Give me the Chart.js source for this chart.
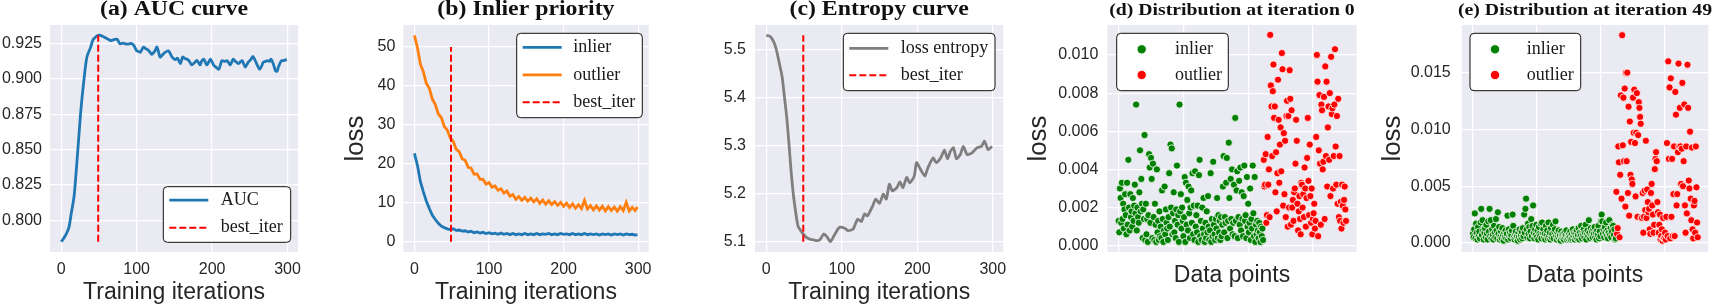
<!DOCTYPE html>
<html><head><meta charset="utf-8">
<script src="https://cdn.jsdelivr.net/npm/chart.js@4.4.1/dist/chart.umd.min.js"></script>
<style>
html,body{margin:0;padding:0;background:#fff;width:1715px;height:308px;overflow:hidden}
canvas{position:absolute;top:0}
</style></head><body>
<canvas id="ca" style="left:0px" width="310" height="308"></canvas>
<canvas id="cb" style="left:340px" width="320" height="308"></canvas>
<canvas id="cc" style="left:700px" width="315" height="308"></canvas>
<canvas id="cd" style="left:1020px" width="345" height="308"></canvas>
<canvas id="ce" style="left:1370px" width="345" height="308"></canvas>
<script>
// ---------------- DATA ----------------
const bestIter = 49;

// (a) AUC curve
const iterA = [0,3,6,10,13,17,20,23,26,30,34,39,42,45,48,52,57,61,63,66,70,74,78,82,85,89,92,96,100,103,105,109,112,114,117,120,124,127,131,134,138,142,145,147,151,154,158,161,164,167,170,173,177,180,184,186,189,193,196,198,202,205,209,213,217,220,224,228,231,235,238,240,244,248,251,254,256,259,263,266,268,271,273,276,278,281,284,286,288,292,295,299];
const aucA = [0.7847,0.7870,0.7895,0.7946,0.804,0.817,0.836,0.857,0.878,0.899,0.9156,0.9226,0.9278,0.9295,0.9309,0.931,0.9297,0.9285,0.928,0.9272,0.928,0.9282,0.925,0.9255,0.925,0.9248,0.9252,0.924,0.920,0.9195,0.919,0.9226,0.9215,0.921,0.9195,0.9175,0.9198,0.9226,0.9156,0.917,0.919,0.920,0.9175,0.9156,0.9137,0.9148,0.911,0.9156,0.9145,0.914,0.9125,0.910,0.9118,0.9132,0.910,0.9125,0.914,0.910,0.9125,0.914,0.910,0.9085,0.907,0.913,0.9125,0.913,0.910,0.914,0.9125,0.911,0.9125,0.913,0.9085,0.912,0.9135,0.916,0.9145,0.911,0.907,0.9095,0.912,0.9125,0.913,0.9125,0.914,0.911,0.906,0.9055,0.9085,0.913,0.913,0.914];
const yTicksA = [0.800,0.825,0.850,0.875,0.900,0.925];
const yLabelsA = ['0.800','0.825','0.850','0.875','0.900','0.925'];

// (b) Inlier priority
const iterB = [0,4,8,12,16,20,24,28,32,36,40,44,48,52,56,60,64,68,72,76,80,84,88,92,96,100,104,108,112,116,120,124,128,132,136,140,144,148,152,156,160,164,168,172,176,180,184,188,192,196,200,204,208,212,216,220,224,228,232,236,240,244,248,252,256,260,264,268,272,276,280,284,288,292,296,299];
const inlierB = [22.7,19.6,15.4,12.8,10.4,8.5,6.8,5.7,4.7,4.0,3.6,3.3,3.1,3.3,2.9,3.0,2.7,2.8,2.5,2.7,2.3,2.5,2.2,2.4,2.1,2.3,2.0,2.2,1.9,2.2,1.9,2.1,1.8,2.1,1.8,2.0,1.8,2.1,1.8,2.0,1.8,2.1,1.8,2.0,1.9,2.1,1.8,2.0,1.8,2.1,1.9,2.0,1.8,2.1,1.8,2.0,1.8,2.1,1.8,2.0,1.8,2.0,1.7,2.0,1.8,2.0,1.7,2.0,1.8,2.0,1.7,2.0,1.8,1.9,1.7,1.8];
const outlierB = [53.0,49.8,45.6,43.6,40.6,39.4,36.6,35.2,32.8,31.9,29.6,28.7,26.6,25.8,23.7,23.1,21.3,20.9,19.1,18.9,17.3,17.4,16.0,16.0,14.8,15.2,14.0,14.3,13.2,13.6,12.5,13.0,11.7,12.1,10.9,11.6,10.6,11.4,10.4,11.2,10.2,11.0,9.8,10.7,9.6,10.5,9.5,10.3,9.3,10.1,9.1,9.9,8.8,9.7,8.6,9.5,8.5,10.6,8.4,9.3,8.2,9.2,8.1,9.1,7.9,9.0,8.0,8.9,7.8,9.0,8.0,10.1,7.9,8.8,8.0,8.9];
const bestLineB = [0, 50];
const yTicksB = [0,10,20,30,40,50];
const yLabelsB = ['0','10','20','30','40','50'];

// (c) Entropy curve
const iterC = [0,5,10,13,17,21,24,27,30,33,36,39,42,47,53,58,62,67,71,76,80,85,91,97,104,108,115,121,126,130,134,141,145,150,155,159,163,167,173,177,181,186,190,196,199,205,210,214,221,225,231,236,240,244,248,252,257,261,266,272,279,285,289,294,299];
const entropyC = [5.530,5.528,5.516,5.502,5.474,5.443,5.402,5.360,5.305,5.243,5.195,5.160,5.132,5.119,5.108,5.104,5.103,5.101,5.103,5.115,5.110,5.099,5.115,5.129,5.127,5.122,5.125,5.146,5.141,5.157,5.153,5.174,5.188,5.179,5.198,5.188,5.219,5.205,5.212,5.224,5.212,5.233,5.222,5.236,5.264,5.248,5.236,5.253,5.274,5.264,5.274,5.290,5.272,5.288,5.295,5.272,5.281,5.298,5.281,5.284,5.295,5.298,5.309,5.291,5.298];
const yTicksC = [5.1,5.2,5.3,5.4,5.5];
const yLabelsC = ['5.1','5.2','5.3','5.4','5.5'];

const xTicksIter = [0,100,200,300];
const xLabelsIter = ['0','100','200','300'];
const xTicksPts = [0,100,200,300];

// (d) Distribution at iteration 0  (inliers: index 0..223, outliers: index 224..351)
const inlierLoss0 = [
.0013,.0007,.0030,.0025,.0012,.0033,.0014,.0022,.0009,.0019,
.0027,.0016,.0006,.0033,.0011,.0045,.0020,.0008,.0027,.0015,
.0018,.0010,.0025,.0013,.0021,.0032,.0017,.0074,.0008,.0020,
.0015,.0012,.0028,.0050,.0018,.0035,.0022,.0004,.0019,.0014,
.0058,.0003,.0022,.0006,.0014,.0002,.0016,.0048,.0041,.0012,
.0046,.0035,.0004,.0043,.0015,.0003,.0022,.0011,.0002,.0040,
.0007,.0013,.0003,.0018,.0005,.0010,.0004,.0029,.0014,.0002,
.0008,.0031,.0006,.0019,.0012,.0009,.0003,.0015,.0038,.0010,
.0053,.0020,.0051,.0006,.0017,.0028,.0007,.0013,.0004,.0019,
.0042,.0011,.0016,.0002,.0074,.0018,.0027,.0009,.0020,.0013,
.0005,.0015,.0036,.0002,.0033,.0011,.0024,.0008,.0031,.0017,
.0004,.0020,.0029,.0012,.0038,.0006,.0021,.0003,.0039,.0010,
.0016,.0007,.0021,.0002,.0037,.0045,.0005,.0013,.0003,.0020,
.0009,.0025,.0006,.0002,.0012,.0004,.0018,.0007,.0026,.0010,
.0003,.0008,.0038,.0002,.0014,.0005,.0044,.0011,.0006,.0003,
.0014,.0009,.0025,.0004,.0016,.0007,.0013,.0003,.0015,.0005,
.0011,.0031,.0047,.0007,.0015,.0012,.0033,.0046,.0004,.0013,
.0054,.0025,.0009,.0035,.0014,.0040,.0006,.0012,.0032,.0005,
.0067,.0013,.0029,.0039,.0004,.0015,.0034,.0011,.0041,.0008,
.0028,.0014,.0005,.0026,.0042,.0013,.0016,.0004,.0036,.0010,
.0022,.0007,.0012,.0030,.0003,.0014,.0009,.0042,.0017,.0005,
.0036,.0002,.0011,.0006,.0013,.0008,.0004,.0012,.0007,.0002,
.0010,.0005,.0009,.0003];
const outlierLoss0 = [
.0045,.0031,.0032,.0048,.0012,.0016,.0057,.0032,.0040,.0015,
.01105,.0084,.0073,.0047,.0081,.0095,.0067,.0073,.0028,.0049,
.0018,.0038,.0087,.0066,.0033,.0053,.0062,.0039,.0101,.00925,
.0021,.0059,.0027,.0055,.0015,.0068,.0076,.0010,.0068,.0020,
.0092,.0077,.0011,.0071,.0020,.0024,.0013,.0028,.0030,.0043,
.0066,.0055,.0022,.0008,.0018,.0026,.0014,.0006,.0033,.0032,
.0020,.0027,.0015,.0041,.0030,.0010,.0025,.0046,.0067,.0034,
.0016,.0053,.0026,.0012,.0030,.0006,.0014,.0017,.0022,.0009,
.0013,.0057,.0100,.0086,.0005,.0050,.0079,.0043,.0011,.0074,
.0071,.0040,.0044,.0078,.0014,.0094,.0047,.0086,.0031,.0062,
.0073,.0045,.0080,.0026,.0099,.0069,.0072,.0030,.0047,.0074,
.0103,.0052,.0032,.0068,.0022,.0077,.0015,.0047,.0013,.0023,
.0009,.0032,.0021,.0012,.0024,.0031,.0019,.0013];
const yTicksD = [0,0.002,0.004,0.006,0.008,0.010];
const yLabelsD = ['0.000','0.002','0.004','0.006','0.008','0.010'];

// (e) Distribution at iteration 49
const inlierLoss49 = [
.0008,.0005,.0012,.0026,.0004,.0017,.0009,.0003,.0014,.0006,
.0010,.0004,.0018,.0030,.0007,.0020,.0011,.0003,.0009,.0013,
.0005,.0016,.0008,.0003,.0019,.0010,.0030,.0006,.0020,.0004,
.0012,.0007,.0003,.0015,.0009,.0005,.0021,.0011,.0004,.0027,
.0008,.0014,.0003,.0006,.0010,.0004,.0013,.0007,.0002,.0009,
.0005,.0011,.0004,.0008,.0024,.0003,.0012,.0006,.0009,.0004,
.0007,.0011,.0025,.0015,.0005,.0003,.0008,.0010,.0004,.0006,
.0002,.0009,.0005,.0012,.0003,.0007,.0010,.0004,.0013,.0006,
.0025,.0009,.0030,.0039,.0012,.0005,.0017,.0008,.0014,.0004,
.0010,.0021,.0006,.0015,.0033,.0009,.0004,.0012,.0007,.0016,
.0005,.0011,.0003,.0014,.0008,.0006,.0017,.0004,.0018,.0009,
.0012,.0005,.0008,.0003,.0015,.0007,.0011,.0004,.0018,.0006,
.0009,.0003,.0013,.0005,.0008,.0016,.0004,.0010,.0012,.0019,
.0006,.0003,.0009,.0005,.0011,.0004,.0007,.0002,.0010,.0006,
.0004,.0008,.0003,.0009,.0005,.0007,.0011,.0003,.0006,.0004,
.0008,.0005,.0010,.0003,.0007,.0004,.0012,.0006,.0009,.0003,
.0008,.0005,.0011,.0004,.0007,.0013,.0003,.0009,.0006,.0015,
.0004,.0010,.0007,.0012,.0005,.0009,.0016,.0003,.0008,.0011,
.0006,.0020,.0009,.0004,.0013,.0007,.0010,.0005,.0012,.0008,
.0014,.0005,.0009,.0003,.0011,.0007,.0015,.0004,.0010,.0006,
.0019,.0025,.0019,.0008,.0012,.0005,.0014,.0009,.0018,.0006,
.0011,.0004,.0009,.0020,.0007,.0013,.0005,.0010,.0016,.0015,
.0007,.0012,.0003,.0004];
const outlierLoss49 = [
.0045,.0008,.0013,.0085,.0071,.0005,.0060,.0130,.0039,.0183,
.0086,.0128,.0072,.0136,.0032,.0150,.0072,.0150,.0044,.0120,
.0024,.0107,.0060,.0089,.0056,.0052,.0128,.0097,.0135,.0088,
.0041,.0097,.0132,.0023,.0095,.0124,.0119,.0111,.0105,.0022,
.0022,.0044,.0009,.0023,.0046,.0029,.0090,.0022,.0047,.0036,
.0027,.0030,.0012,.0008,.0044,.0052,.0033,.0025,.0009,.0016,
.0065,.0074,.0080,.0072,.0036,.0027,.0009,.0016,.0025,.0003,
.0006,.0012,.0002,.0022,.0004,.0004,
.0009,.0003,.0023,.0088,.0006,.0160,.0074,.0137,.0004,.0145,
.0023,.0074,.0006,.0043,.0085,.0006,.0133,.0113,.0033,.0043,
.0080,.0158,.0085,.0119,.0085,.0052,.0083,.0141,.0050,.0072,
.0122,.0033,.0009,.0085,.0026,.0157,.0119,.0055,.0048,.0098,
.0039,.0020,.0084,.0012,.0004,.0033,.0037,.0009,.0085,.0049,
.0018,.0005];
const outlierStart = 224;
const yTicksE = [0,0.005,0.010,0.015];
const yLabelsE = ['0.000','0.005','0.010','0.015'];

// ---------------- STYLE / PLUGINS ----------------
const SANS = "'Liberation Sans', Arial, sans-serif";
const SERIF = "'Liberation Serif', 'Times New Roman', serif";
const INK = '#262626';
const BLUE = '#1f77b4', ORANGE = '#ff7f0e', GREY = '#7f7f7f', RED = '#ff0000';

const bgPlugin = { id: 'bg', beforeDraw(chart) {
  const { ctx, chartArea: a } = chart;
  ctx.save(); ctx.fillStyle = '#EAEAF2';
  ctx.fillRect(a.left, a.top, a.right - a.left, a.bottom - a.top);
  ctx.restore();
}};

const titleStretch = { id: 'titleStretch', afterLayout(chart, args, opts) {
  const tb = chart.titleBlock;
  if (!tb || tb._stretched) return;
  const orig = tb.draw.bind(tb);
  tb.draw = function(area) {
    const ctx = this.ctx; const cx = (this.left + this.right) / 2;
    ctx.save(); ctx.translate(cx, 0); ctx.scale(opts.sx || 1, 1); ctx.translate(-cx, 0);
    orig(area); ctx.restore();
  };
  tb._stretched = true;
}};

const boxLegend = { id: 'boxLegend', afterDraw(chart, args, o) {
  if (!o || !o.items) return;
  const ctx = chart.ctx, a = chart.chartArea;
  const x = a.left + o.x, y = a.top + o.y, w = o.w, h = o.h, r = 4;
  ctx.save();
  ctx.beginPath();
  ctx.moveTo(x + r, y); ctx.lineTo(x + w - r, y); ctx.arcTo(x + w, y, x + w, y + r, r);
  ctx.lineTo(x + w, y + h - r); ctx.arcTo(x + w, y + h, x + w - r, y + h, r);
  ctx.lineTo(x + r, y + h); ctx.arcTo(x, y + h, x, y + h - r, r);
  ctx.lineTo(x, y + r); ctx.arcTo(x, y, x + r, y, r); ctx.closePath();
  ctx.fillStyle = 'rgba(255,255,255,0.92)'; ctx.fill();
  ctx.lineWidth = 1; ctx.strokeStyle = '#111'; ctx.stroke();
  o.items.forEach((di, i) => {
    const ds = chart.data.datasets[di];
    const ry = y + o.row0 + i * o.rowGap;
    if (o.kind === 'dot') {
      ctx.beginPath(); ctx.arc(x + 25, ry, 4.6, 0, Math.PI * 2);
      ctx.fillStyle = ds.backgroundColor; ctx.fill();
      ctx.lineWidth = 0.8; ctx.strokeStyle = '#fff'; ctx.stroke();
    } else {
      ctx.beginPath(); ctx.moveTo(x + 6, ry); ctx.lineTo(x + 45, ry);
      ctx.strokeStyle = ds.borderColor; ctx.lineWidth = ds.borderWidth;
      ctx.setLineDash(ds.borderDash || []); ctx.stroke(); ctx.setLineDash([]);
    }
    ctx.font = '18px ' + SERIF; ctx.fillStyle = '#1a1a1a';
    ctx.textBaseline = 'middle'; ctx.textAlign = 'left';
    ctx.fillText(ds.label, x + o.textX, ry);
  });
  ctx.restore();
}};

function tickScale(vals, labels) {
  return {
    afterBuildTicks: (s) => { s.ticks = vals.map(v => ({ value: v })); },
    callback: (v, i) => labels ? labels[i] : ''
  };
}

function makePanel(id, p) {
  const yt = tickScale(p.yTicks, p.yLabels);
  const xt = tickScale(p.xTicks, p.xLabels);
  return new Chart(document.getElementById(id), {
    type: 'scatter',
    data: { datasets: p.datasets },
    plugins: [bgPlugin, titleStretch, boxLegend],
    options: {
      responsive: false, animation: false, devicePixelRatio: 1, events: [],
      layout: { padding: { left: 0, right: p.padR, top: 0, bottom: 0 } },
      plugins: {
        legend: { display: false }, tooltip: { enabled: false },
        title: { display: true, text: p.title, fullSize: false, color: '#111',
          font: { family: SERIF, size: p.titleSize, weight: 'bold', lineHeight: 1 },
          padding: { top: p.titleTop, bottom: 25 - p.titleSize - p.titleTop } },
        titleStretch: { sx: p.sx },
        boxLegend: p.legend
      },
      scales: {
        x: {
          type: 'linear', min: p.xMin, max: p.xMax,
          afterBuildTicks: xt.afterBuildTicks,
          afterFit: (s) => { s.height = 56; },
          grid: { color: '#ffffff', lineWidth: 1.2, drawTicks: false },
          border: { display: false },
          ticks: { display: !!p.xLabels, padding: 8, color: INK, font: { family: SANS, size: 16 }, callback: xt.callback, maxRotation: 0 },
          title: { display: true, text: p.xTitle, color: INK, font: { family: SANS, size: 23 }, padding: { top: 0, bottom: p.xTitlePad } }
        },
        y: {
          type: 'linear', min: p.yMin, max: p.yMax,
          afterBuildTicks: yt.afterBuildTicks,
          afterFit: (s) => { s.width = p.yW; },
          grid: { color: '#ffffff', lineWidth: 1.2, drawTicks: false },
          border: { display: false },
          ticks: { padding: p.yPad, color: INK, font: { family: SANS, size: 16 }, callback: yt.callback },
          title: { display: !!p.yTitle, text: p.yTitle || '', color: INK, font: { family: SANS, size: 26 }, padding: { top: p.yTitlePad || 0, bottom: 0 } }
        }
      }
    }
  });
}

const xy = (xs, ys) => xs.map((x, i) => ({ x: x, y: ys[i] }));
const lineDs = (label, pts, color, order) => ({ label, data: pts, showLine: true, borderColor: color, backgroundColor: color, borderWidth: 2.8, pointRadius: 0, pointHoverRadius: 0, tension: 0, order });
const bestDs = (lo, hi) => ({ label: 'best_iter', data: [{ x: bestIter, y: lo }, { x: bestIter, y: hi }], showLine: true, borderColor: RED, backgroundColor: RED, borderWidth: 2, borderDash: [7, 3], pointRadius: 0, pointHoverRadius: 0, order: 0 });
const dotDs = (label, start, vals, color, order) => ({ label, data: vals.map((v, i) => ({ x: start + i, y: v })), backgroundColor: color, borderColor: '#ffffff', borderWidth: 0.8, pointRadius: 3.6, pointHoverRadius: 3.6, order });

// (a)
const aucDs = lineDs('AUC', xy(iterA, aucA), BLUE, 1); aucDs.tension = 0.3;
makePanel('ca', {
  title: '(a) AUC curve', titleSize: 20, titleTop: 0, sx: 1.19,
  datasets: [aucDs, bestDs(Math.min(...aucA), Math.max(...aucA))],
  xMin: -14.95, xMax: 313.95, xTicks: xTicksIter, xLabels: xLabelsIter, xTitle: 'Training iterations', xTitlePad: 2,
  yMin: 0.7774, yMax: 0.9383, yTicks: yTicksA, yLabels: yLabelsA, yW: 50, yPad: 8,
  padR: 12,
  legend: { items: [0, 1], kind: 'line', x: 113.3, y: 161.7, w: 127.4, h: 55.6, row0: 13.5, rowGap: 27.5, textX: 57.4 }
});
// (b)
makePanel('cb', {
  title: '(b) Inlier priority', titleSize: 20, titleTop: 0, sx: 1.19,
  datasets: [lineDs('inlier', xy(iterB, inlierB), BLUE, 1), lineDs('outlier', xy(iterB, outlierB), ORANGE, 1), bestDs(bestLineB[0], bestLineB[1])],
  xMin: -14.95, xMax: 313.95, xTicks: xTicksIter, xLabels: xLabelsIter, xTitle: 'Training iterations', xTitlePad: 2,
  yMin: -2.65, yMax: 55.65, yTicks: yTicksB, yLabels: yLabelsB, yW: 63.3, yPad: 8, yTitle: 'loss', yTitlePad: 0.3,
  padR: 9.3,
  legend: { items: [0, 1, 2], kind: 'line', x: 113.4, y: 8.3, w: 125.6, h: 84.4, row0: 14, rowGap: 27.5, textX: 56.6 }
});
// (c)
const entDs = lineDs('loss entropy', xy(iterC, entropyC), GREY, 1); entDs.tension = 0.2;
makePanel('cc', {
  title: '(c) Entropy curve', titleSize: 20, titleTop: 0, sx: 1.19,
  datasets: [entDs, bestDs(Math.min(...entropyC), Math.max(...entropyC))],
  xMin: -14.95, xMax: 313.95, xTicks: xTicksIter, xLabels: xLabelsIter, xTitle: 'Training iterations', xTitlePad: 2,
  yMin: 5.0774, yMax: 5.5516, yTicks: yTicksC, yLabels: yLabelsC, yW: 55, yPad: 9,
  padR: 11.7,
  legend: { items: [0, 1], kind: 'line', x: 88.3, y: 8.3, w: 151.7, h: 57.4, row0: 15, rowGap: 27, textX: 57.4 }
});
// (d)
makePanel('cd', {
  title: '(d) Distribution at iteration 0', titleSize: 17, titleTop: 2.3, sx: 1.16,
  datasets: [dotDs('inlier', 0, inlierLoss0, '#008000', 1), dotDs('outlier', outlierStart, outlierLoss0, '#ff0000', 0)],
  xMin: -17.5, xMax: 367.5, xTicks: xTicksPts, xLabels: null, xTitle: 'Data points', xTitlePad: 19,
  yMin: -0.00033, yMax: 0.01157, yTicks: yTicksD, yLabels: yLabelsD, yW: 87.3, yPad: 9, yTitle: 'loss', yTitlePad: 3.6,
  padR: 8.3,
  legend: { items: [0, 1], kind: 'dot', x: 9.4, y: 8.3, w: 111.6, h: 57.4, row0: 16, rowGap: 25.7, textX: 58.3 }
});
// (e)
makePanel('ce', {
  title: '(e) Distribution at iteration 49', titleSize: 17, titleTop: 2.3, sx: 1.165,
  datasets: [dotDs('inlier', 0, inlierLoss49, '#008000', 1), dotDs('outlier', outlierStart, outlierLoss49, '#ff0000', 0)],
  xMin: -17.5, xMax: 367.5, xTicks: xTicksPts, xLabels: null, xTitle: 'Data points', xTitlePad: 19,
  yMin: -0.0008, yMax: 0.0192, yTicks: yTicksE, yLabels: yLabelsE, yW: 91.7, yPad: 11, yTitle: 'loss', yTitlePad: 7,
  padR: 6.7,
  legend: { items: [0, 1], kind: 'dot', x: 8.3, y: 8.3, w: 110.7, h: 57.4, row0: 16, rowGap: 25.7, textX: 56.7 }
});
</script>
</body></html>
